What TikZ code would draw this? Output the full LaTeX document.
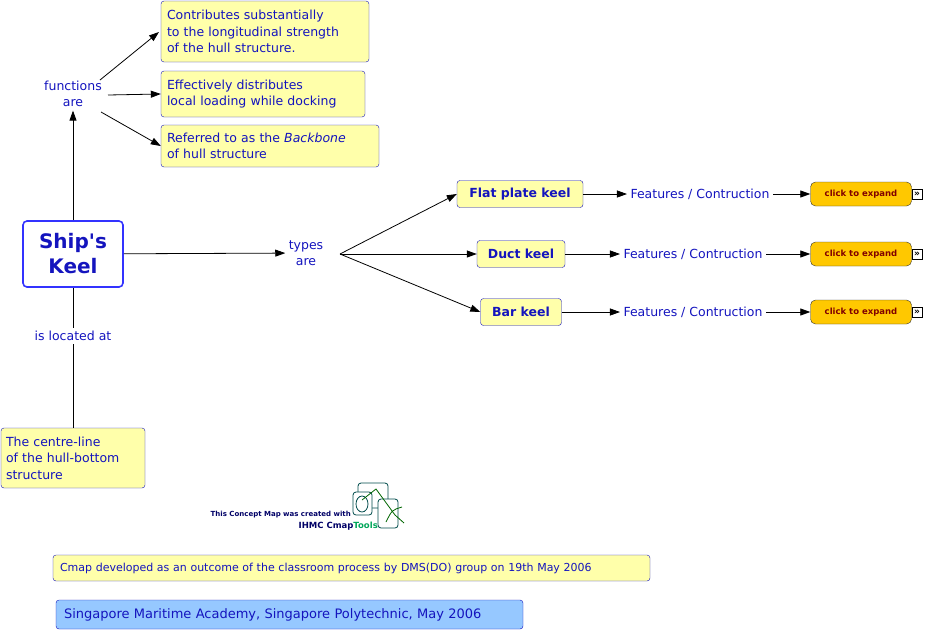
\documentclass[tikz,border=0pt]{standalone}
\usepackage{fontspec}
\setmainfont{DejaVu Sans}[Ligatures=TeXOff]
\usetikzlibrary{arrows.meta}
\definecolor{tb}{RGB}{20,20,190}
\definecolor{cy}{RGB}{255,255,170}
\begin{document}
\begin{tikzpicture}[x=1pt,y=-1pt,
  every node/.style={font=\fontsize{12.5}{16.5}\selectfont, text=tb},
  con/.style={draw=tb, fill=cy, rounded corners=3pt, align=left, inner sep=0pt},
  keel/.style={draw=tb, fill=cy, rounded corners=3pt, font=\fontsize{12.5}{14}\bfseries\selectfont, inner sep=0pt, minimum height=27pt},
  lnk/.style={align=center},
  cte/.style={draw=black!80, fill={rgb,255:red,255;green,200;blue,0}, rounded corners=5pt, inner sep=0pt, minimum width=101pt, minimum height=24pt, font=\fontsize{8.5}{9}\bfseries\selectfont, text=red!50!black},
  arr/.style={-{Triangle[length=10pt,width=7pt]}, black, line width=0.8pt},
  ln/.style={black, line width=0.8pt},
  ico/.style={draw=teal!60!black, fill=white, rounded corners=3pt, line width=0.8pt}]
\useasboundingbox (0,0) rectangle (925,632);
\node[draw=blue!80, line width=1.6pt, fill=white, rounded corners=4pt, minimum width=100pt, minimum height=66pt, font=\fontsize{20}{25}\bfseries\selectfont, align=center, inner sep=0pt] (ship) at (73,254) {Ship's\\Keel};
\node[lnk] (fa) at (73,94) {functions\\are};
\node[con, minimum width=208pt, minimum height=61pt, text width=196pt] (b1) at (265,31.5) {Contributes substantially\\to the longitudinal strength\\of the hull structure.};
\node[con, minimum width=204pt, minimum height=46pt, text width=192pt] (b2) at (263,94) {Effectively distributes\\local loading while docking};
\node[con, minimum width=218pt, minimum height=42pt, text width=206pt] (b3) at (270,146) {Referred to as the \textit{Backbone}\\of hull structure};
\node[lnk] (ta) at (306,253) {types\\are};
\node[keel, minimum width=126pt] (k1) at (520,194) {Flat plate keel};
\node[keel, minimum width=88pt] (k2) at (521,254) {Duct keel};
\node[keel, minimum width=81pt] (k3) at (521,312) {Bar keel};
\node (f1) at (700,194) {Features / Contruction};
\node (f2) at (693,254) {Features / Contruction};
\node (f3) at (693,312) {Features / Contruction};
\foreach \i/\y in {1/194,2/254,3/312}{
  \node[cte] (c\i) at (861,\y) {click to expand};
  \node[draw=black, fill=white, minimum size=10pt, inner sep=0pt, font=\fontsize{9}{9}\bfseries\selectfont, text=black] (e\i) at (917,\y) {{\char187}};
}
\node[lnk] (la) at (73,336) {is located at};
\node[con, minimum width=144pt, minimum height=60pt, text width=134pt] (cl) at (73,458) {The centre-line\\of the hull-bottom\\structure};
\node[con, minimum width=597pt, minimum height=26pt, text width=583pt, font=\fontsize{11}{13}\selectfont] (dev) at (351.5,568) {Cmap developed as an outcome of the classroom process by DMS(DO) group on 19th May 2006};
\node[con, fill={rgb,255:red,150;green,200;blue,255}, minimum width=467pt, minimum height=29pt, text width=451pt, font=\fontsize{13}{15}\selectfont] (sma) at (289.5,614.5) {Singapore Maritime Academy, Singapore Polytechnic, May 2006};
% logo
\draw[ico] (358,483) rectangle (388,508);
\draw[ico] (378,499) rectangle (398,528);
\draw[ico] (353,492) rectangle (372,515);
\draw[teal!60!black, line width=0.8pt] (362,504) ellipse (6pt and 8pt);
\draw[green!40!black, line width=0.8pt] (362,500) -- (376,489) -- (395,515) -- (404,523);
\draw[green!40!black, line width=0.8pt] (386,522) .. controls (392,510) .. (402,507);
\node[font=\fontsize{7}{8}\bfseries\selectfont, text=blue!40!black, anchor=east, inner sep=0pt] (lg1) at (351,515) {This Concept Map was created with};
\node[font=\fontsize{8.5}{9}\bfseries\selectfont, text=blue!40!black, anchor=east, inner sep=0pt] (lg2) at (378,526) {IHMC Cmap\textcolor{teal!70!green}{Tools}};
% connectors
\draw[arr] (ship) -- (fa);
\draw[arr] (100,80) -- (159,32);
\draw[arr] (108,95) -- (b2.west);
\draw[arr] (101,112) -- (b3.west);
\draw[arr] (ship) -- (ta);
\draw[arr] (340,254) -- (k1.west);
\draw[arr] (340,254) -- (k2.west);
\draw[arr] (340,254) -- (k3.west);
\foreach \i in {1,2,3}{
  \draw[arr] (k\i) -- (f\i);
  \draw[arr] (f\i) -- (c\i);
}
\draw[ln] (ship) -- (la);
\draw[ln] (la) -- (cl);
\end{tikzpicture}
\end{document}
